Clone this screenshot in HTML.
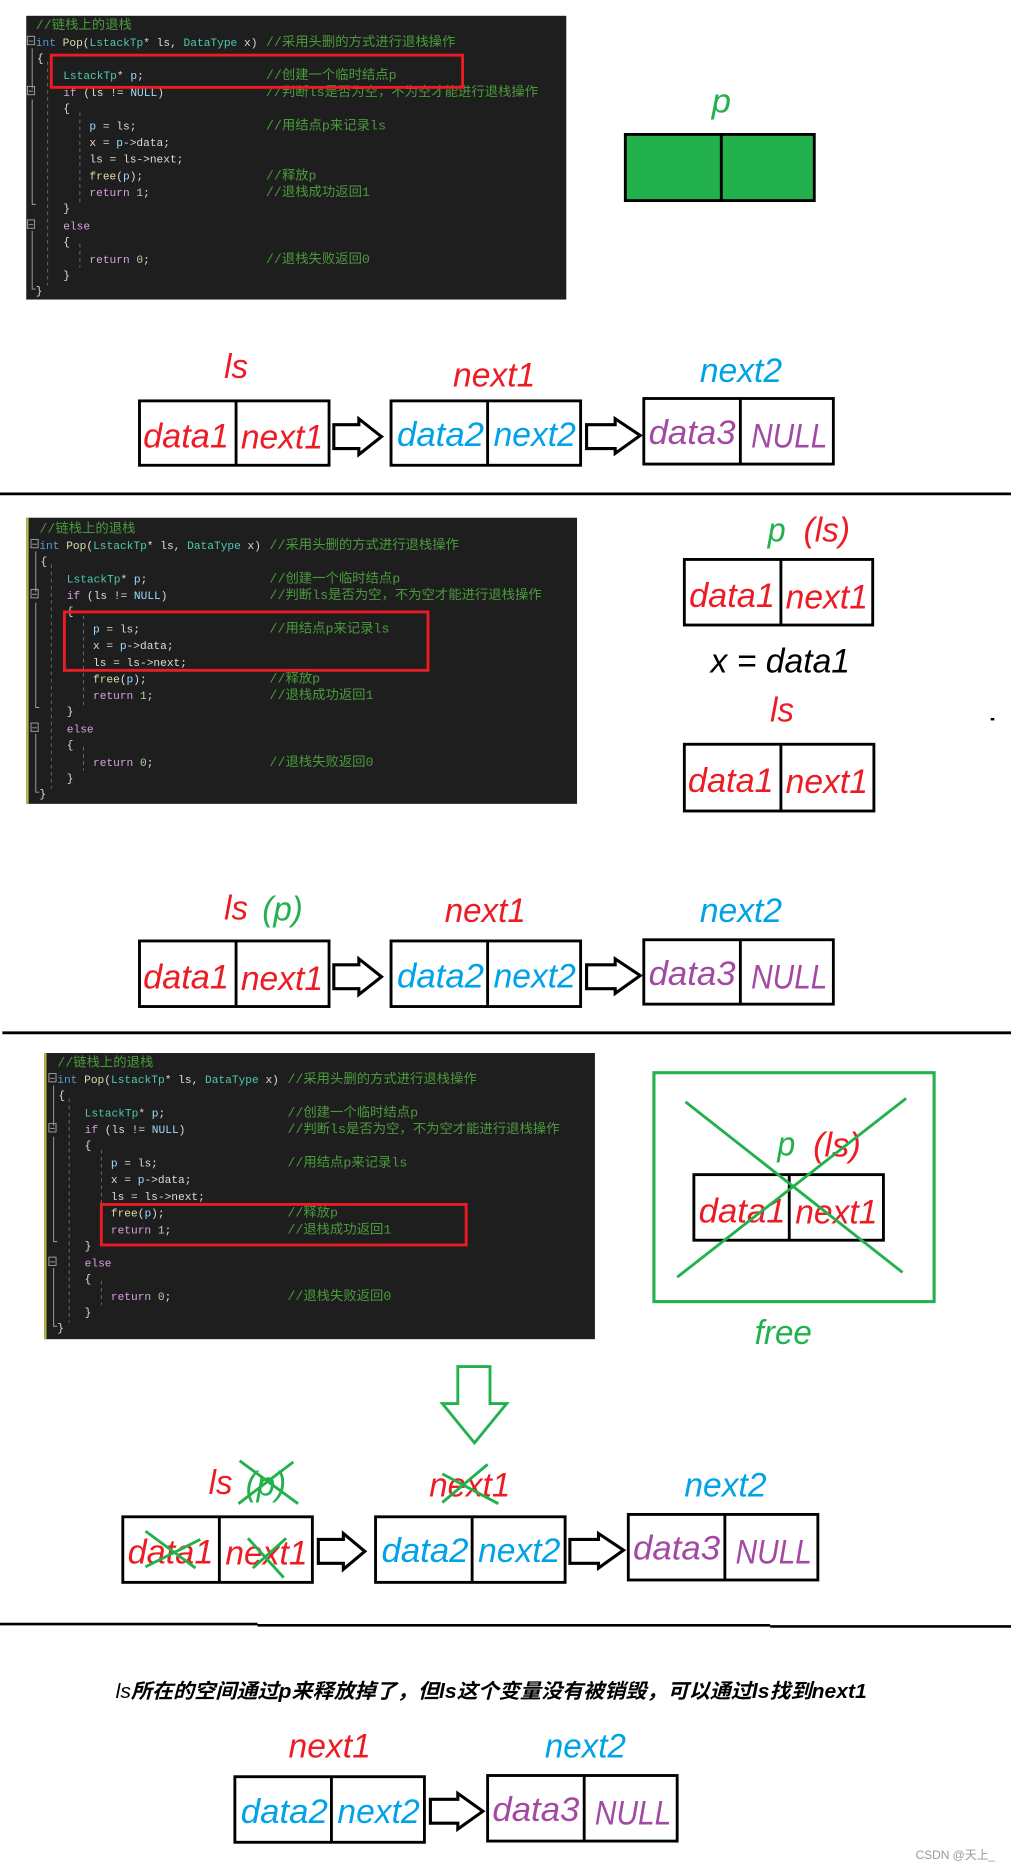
<!DOCTYPE html>
<html><head><meta charset="utf-8"><style>
html,body{margin:0;padding:0;background:#fff}
svg{display:block}
.l{font-family:"Liberation Sans","Noto Sans CJK SC",sans-serif;font-style:italic;font-size:29px}
.r{fill:#ed1c24}.b{fill:#00a2e8}.v{fill:#a349a4}.g{fill:#22b14c}
.c{font-family:"Liberation Mono",monospace;font-size:9.4px;fill:#dcdcdc;white-space:pre}
.cm{font-family:"Liberation Mono","Noto Sans CJK SC",monospace;font-size:11.2px;fill:#4a9a3c}
.k{fill:#569cd6}.t{fill:#4ec9b0}.p{fill:#9cdcfe}.f{fill:#dcdcaa}.u{fill:#d8a0df}.n{fill:#b5cea8}.m{fill:#bd63c5}
.box{fill:#fff;stroke:#000;stroke-width:2.4}
.arr{fill:#fff;stroke:#000;stroke-width:2.6}
.x{stroke:#22b14c;stroke-width:2.4;fill:none}
.rb{fill:none;stroke:#ed1c24;stroke-width:2.4}
.gut{stroke:#a0a0a0;stroke-width:.8;fill:none}
.dash{stroke:#777;stroke-width:.7;stroke-dasharray:3 3;fill:none}
</style></head><body>
<svg xmlns="http://www.w3.org/2000/svg" width="1011" height="1870" viewBox="0 0 848 1568">
<rect width="848" height="1568" fill="#fff"/>

<!-- code block 1 -->
<rect x="22" y="13" width="453" height="238" fill="#1e1e1e"/>
<g transform="translate(0,-0.8)">
<path class="gut" d="M27 41V75M27 84V172H30M27 194V243H30M24 35h4M24 77h4M24 189h4"/><rect x="23" y="31" width="6" height="7" class="gut"/><rect x="23" y="73" width="6" height="7" class="gut"/><rect x="23" y="185" width="6" height="7" class="gut"/>
<path class="dash" d="M40 52V240M67 95V170M67 205V225"/>
<text class="cm" x="30" y="25">//链栈上的退栈</text>
<text class="c" x="30" y="39"><tspan class="k">int</tspan> <tspan class="f">Pop</tspan>(<tspan class="t">LstackTp</tspan>* <tspan class="c">ls</tspan>, <tspan class="t">DataType</tspan> x)</text>
<text class="cm" x="223" y="39">//采用头删的方式进行退栈操作</text>
<text class="c" x="31" y="52">{</text>
<text class="c" x="53" y="67"><tspan class="t">LstackTp</tspan>* <tspan class="p">p</tspan>;</text>
<text class="cm" x="223" y="67">//创建一个临时结点p</text>
<text class="c" x="53" y="81"><tspan class="u">if</tspan> (ls != <tspan class="p">NULL</tspan>)</text>
<text class="cm" x="223" y="81">//判断ls是否为空，不为空才能进行退栈操作</text>
<text class="c" x="53" y="94">{</text>
<text class="c" x="75" y="109"><tspan class="p">p</tspan> = ls;</text>
<text class="cm" x="223" y="109">//用结点p来记录ls</text>
<text class="c" x="75" y="123">x = <tspan class="p">p</tspan>-&gt;data;</text>
<text class="c" x="75" y="137">ls = ls-&gt;next;</text>
<text class="c" x="75" y="151"><tspan class="f">free</tspan>(<tspan class="p">p</tspan>);</text>
<text class="cm" x="223" y="151">//释放p</text>
<text class="c" x="75" y="165"><tspan class="u">return</tspan> <tspan class="n">1</tspan>;</text>
<text class="cm" x="223" y="165">//退栈成功返回1</text>
<text class="c" x="53" y="178">}</text>
<text class="c" x="53" y="193"><tspan class="u">else</tspan></text>
<text class="c" x="53" y="206">{</text>
<text class="c" x="75" y="221"><tspan class="u">return</tspan> <tspan class="n">0</tspan>;</text>
<text class="cm" x="223" y="221">//退栈失败返回0</text>
<text class="c" x="53" y="234">}</text>
<text class="c" x="30" y="247">}</text>
</g>
<rect class="rb" x="43" y="46" width="345" height="27"/>

<!-- code block 2 -->
<rect x="22" y="434" width="462" height="240" fill="#1e1e1e"/>
<rect x="22" y="434" width="2" height="240" fill="#b5b84a"/>
<g transform="translate(3,421.2)">
<path class="gut" d="M27 41V75M27 84V172H30M27 194V243H30M24 35h4M24 77h4M24 189h4"/><rect x="23" y="31" width="6" height="7" class="gut"/><rect x="23" y="73" width="6" height="7" class="gut"/><rect x="23" y="185" width="6" height="7" class="gut"/>
<path class="dash" d="M40 52V240M67 95V170M67 205V225"/>
<text class="cm" x="30" y="25">//链栈上的退栈</text>
<text class="c" x="30" y="39"><tspan class="k">int</tspan> <tspan class="f">Pop</tspan>(<tspan class="t">LstackTp</tspan>* <tspan class="c">ls</tspan>, <tspan class="t">DataType</tspan> x)</text>
<text class="cm" x="223" y="39">//采用头删的方式进行退栈操作</text>
<text class="c" x="31" y="52">{</text>
<text class="c" x="53" y="67"><tspan class="t">LstackTp</tspan>* <tspan class="p">p</tspan>;</text>
<text class="cm" x="223" y="67">//创建一个临时结点p</text>
<text class="c" x="53" y="81"><tspan class="u">if</tspan> (ls != <tspan class="p">NULL</tspan>)</text>
<text class="cm" x="223" y="81">//判断ls是否为空，不为空才能进行退栈操作</text>
<text class="c" x="53" y="94">{</text>
<text class="c" x="75" y="109"><tspan class="p">p</tspan> = ls;</text>
<text class="cm" x="223" y="109">//用结点p来记录ls</text>
<text class="c" x="75" y="123">x = <tspan class="p">p</tspan>-&gt;data;</text>
<text class="c" x="75" y="137">ls = ls-&gt;next;</text>
<text class="c" x="75" y="151"><tspan class="f">free</tspan>(<tspan class="p">p</tspan>);</text>
<text class="cm" x="223" y="151">//释放p</text>
<text class="c" x="75" y="165"><tspan class="u">return</tspan> <tspan class="n">1</tspan>;</text>
<text class="cm" x="223" y="165">//退栈成功返回1</text>
<text class="c" x="53" y="178">}</text>
<text class="c" x="53" y="193"><tspan class="u">else</tspan></text>
<text class="c" x="53" y="206">{</text>
<text class="c" x="75" y="221"><tspan class="u">return</tspan> <tspan class="n">0</tspan>;</text>
<text class="cm" x="223" y="221">//退栈失败返回0</text>
<text class="c" x="53" y="234">}</text>
<text class="c" x="30" y="247">}</text>
</g>
<rect class="rb" x="54" y="513" width="305" height="49"/>

<!-- code block 3 -->
<rect x="37" y="883" width="462" height="240" fill="#1e1e1e"/>
<rect x="37" y="883" width="2" height="240" fill="#b5b84a"/>
<g transform="translate(18,869.2)">
<path class="gut" d="M27 41V75M27 84V172H30M27 194V243H30M24 35h4M24 77h4M24 189h4"/><rect x="23" y="31" width="6" height="7" class="gut"/><rect x="23" y="73" width="6" height="7" class="gut"/><rect x="23" y="185" width="6" height="7" class="gut"/>
<path class="dash" d="M40 52V240M67 95V170M67 205V225"/>
<text class="cm" x="30" y="25">//链栈上的退栈</text>
<text class="c" x="30" y="39"><tspan class="k">int</tspan> <tspan class="f">Pop</tspan>(<tspan class="t">LstackTp</tspan>* <tspan class="c">ls</tspan>, <tspan class="t">DataType</tspan> x)</text>
<text class="cm" x="223" y="39">//采用头删的方式进行退栈操作</text>
<text class="c" x="31" y="52">{</text>
<text class="c" x="53" y="67"><tspan class="t">LstackTp</tspan>* <tspan class="p">p</tspan>;</text>
<text class="cm" x="223" y="67">//创建一个临时结点p</text>
<text class="c" x="53" y="81"><tspan class="u">if</tspan> (ls != <tspan class="p">NULL</tspan>)</text>
<text class="cm" x="223" y="81">//判断ls是否为空，不为空才能进行退栈操作</text>
<text class="c" x="53" y="94">{</text>
<text class="c" x="75" y="109"><tspan class="p">p</tspan> = ls;</text>
<text class="cm" x="223" y="109">//用结点p来记录ls</text>
<text class="c" x="75" y="123">x = <tspan class="p">p</tspan>-&gt;data;</text>
<text class="c" x="75" y="137">ls = ls-&gt;next;</text>
<text class="c" x="75" y="151"><tspan class="f">free</tspan>(<tspan class="p">p</tspan>);</text>
<text class="cm" x="223" y="151">//释放p</text>
<text class="c" x="75" y="165"><tspan class="u">return</tspan> <tspan class="n">1</tspan>;</text>
<text class="cm" x="223" y="165">//退栈成功返回1</text>
<text class="c" x="53" y="178">}</text>
<text class="c" x="53" y="193"><tspan class="u">else</tspan></text>
<text class="c" x="53" y="206">{</text>
<text class="c" x="75" y="221"><tspan class="u">return</tspan> <tspan class="n">0</tspan>;</text>
<text class="cm" x="223" y="221">//退栈失败返回0</text>
<text class="c" x="53" y="234">}</text>
<text class="c" x="30" y="247">}</text>
</g>
<rect class="rb" x="85" y="1010" width="306" height="34"/>

<!-- p green node -->
<rect x="524.5" y="112.5" width="158.5" height="55.5" fill="#22b14c" stroke="#000" stroke-width="2.4"/>
<path d="M605 113V168" stroke="#000" stroke-width="2.4"/>
<text class="l g" x="597" y="94" font-size="28">p</text>

<!-- row 1 -->
<text class="l r" x="188" y="317" textLength="20" lengthAdjust="spacingAndGlyphs">ls</text>
<text class="l r" x="380" y="324" textLength="69" lengthAdjust="spacingAndGlyphs">next1</text>
<text class="l b" x="587" y="320" textLength="69" lengthAdjust="spacingAndGlyphs">next2</text>
<rect class="box" x="117" y="336" width="159" height="54"/><path class="box" d="M198 336V390"/>
<rect class="box" x="328" y="336" width="159" height="54"/><path class="box" d="M409 336V390"/>
<rect class="box" x="540" y="334" width="159" height="55"/><path class="box" d="M621 334V389"/>
<path class="arr" d="M280 356H301V351L320 366L301 381V376H280Z"/>
<path class="arr" d="M492 356H516V351L537 365L516 380V376H492Z"/>
<text class="l r" x="120" y="375" textLength="72" lengthAdjust="spacingAndGlyphs">data1</text>
<text class="l r" x="202" y="376" textLength="69" lengthAdjust="spacingAndGlyphs">next1</text>
<text class="l b" x="333" y="374" textLength="73" lengthAdjust="spacingAndGlyphs">data2</text>
<text class="l b" x="414" y="374" textLength="69" lengthAdjust="spacingAndGlyphs">next2</text>
<text class="l v" x="544" y="372" textLength="73" lengthAdjust="spacingAndGlyphs">data3</text>
<text class="l v" x="630" y="375" textLength="64" lengthAdjust="spacingAndGlyphs">NULL</text>

<path d="M0 414H848" stroke="#000" stroke-width="2.4"/>

<!-- right col 2 -->
<text class="l g" x="644" y="454" textLength="15" lengthAdjust="spacingAndGlyphs">p</text>
<text class="l r" x="674" y="454" textLength="39" lengthAdjust="spacingAndGlyphs">(ls)</text>
<rect class="box" x="574" y="469" width="158" height="55"/><path class="box" d="M655 469V524"/>
<text class="l r" x="578" y="509" textLength="72" lengthAdjust="spacingAndGlyphs">data1</text>
<text class="l r" x="659" y="510" textLength="69" lengthAdjust="spacingAndGlyphs">next1</text>
<text class="l" x="596" y="564" textLength="117" lengthAdjust="spacingAndGlyphs" fill="#000">x = data1</text>
<text class="l r" x="646" y="605" textLength="20" lengthAdjust="spacingAndGlyphs">ls</text>
<rect class="box" x="574" y="624" width="159" height="56"/><path class="box" d="M655 624V680"/>
<text class="l r" x="577" y="664" textLength="72" lengthAdjust="spacingAndGlyphs">data1</text>
<text class="l r" x="659" y="665" textLength="69" lengthAdjust="spacingAndGlyphs">next1</text>
<path d="M831 603h3" stroke="#000" stroke-width="2"/>

<!-- row 2 -->
<text class="l r" x="188" y="771" textLength="20" lengthAdjust="spacingAndGlyphs">ls</text>
<text class="l g" x="220" y="772" textLength="34" lengthAdjust="spacingAndGlyphs">(p)</text>
<text class="l r" x="373" y="773" textLength="68" lengthAdjust="spacingAndGlyphs">next1</text>
<text class="l b" x="587" y="773" textLength="69" lengthAdjust="spacingAndGlyphs">next2</text>
<rect class="box" x="117" y="789" width="159" height="55"/><path class="box" d="M198 789V844"/>
<rect class="box" x="328" y="789" width="159" height="55"/><path class="box" d="M409 789V844"/>
<rect class="box" x="540" y="788" width="159" height="54"/><path class="box" d="M621 788V842"/>
<path class="arr" d="M280 809H301V804L320 819L301 834V829H280Z"/>
<path class="arr" d="M492 809H516V804L537 818L516 833V829H492Z"/>
<text class="l r" x="120" y="829" textLength="72" lengthAdjust="spacingAndGlyphs">data1</text>
<text class="l r" x="202" y="830" textLength="69" lengthAdjust="spacingAndGlyphs">next1</text>
<text class="l b" x="333" y="828" textLength="73" lengthAdjust="spacingAndGlyphs">data2</text>
<text class="l b" x="414" y="828" textLength="69" lengthAdjust="spacingAndGlyphs">next2</text>
<text class="l v" x="544" y="826" textLength="73" lengthAdjust="spacingAndGlyphs">data3</text>
<text class="l v" x="630" y="829" textLength="64" lengthAdjust="spacingAndGlyphs">NULL</text>

<path d="M2 866H848" stroke="#000" stroke-width="2.4"/>

<!-- free box -->
<rect x="548.5" y="899.5" width="235" height="192" fill="#fff" stroke="#22b14c" stroke-width="2.6"/>
<rect class="box" x="582" y="985" width="159" height="55"/><path class="box" d="M662 985V1040"/>
<text class="l g" x="652" y="969" textLength="15" lengthAdjust="spacingAndGlyphs">p</text>
<text class="l r" x="682" y="970" textLength="40" lengthAdjust="spacingAndGlyphs">(ls)</text>
<text class="l r" x="586" y="1025" textLength="73" lengthAdjust="spacingAndGlyphs">data1</text>
<text class="l r" x="667" y="1026" textLength="69" lengthAdjust="spacingAndGlyphs">next1</text>
<path class="x" d="M575 924L757 1067M760 921L568 1071" stroke-width="2"/>
<text class="l g" x="633" y="1127" textLength="48" lengthAdjust="spacingAndGlyphs">free</text>

<!-- green down arrow -->
<path d="M384 1146H411V1177H425L398 1210L371 1177H384Z" fill="#fff" stroke="#22b14c" stroke-width="2.4"/>

<!-- row 3 -->
<text class="l r" x="175" y="1253" textLength="20" lengthAdjust="spacingAndGlyphs">ls</text>
<text class="l g" x="206" y="1254" textLength="34" lengthAdjust="spacingAndGlyphs">(p)</text>
<text class="l r" x="360" y="1255" textLength="68" lengthAdjust="spacingAndGlyphs">next1</text>
<text class="l b" x="574" y="1255" textLength="69" lengthAdjust="spacingAndGlyphs">next2</text>
<rect class="box" x="103" y="1272" width="159" height="55"/><path class="box" d="M184 1272V1327"/>
<rect class="box" x="315" y="1272" width="159" height="55"/><path class="box" d="M396 1272V1327"/>
<rect class="box" x="527" y="1270" width="159" height="55"/><path class="box" d="M608 1270V1325"/>
<path class="arr" d="M267 1291H288V1286L306 1301L288 1316V1311H267Z"/>
<path class="arr" d="M478 1291H502V1286L523 1300L502 1315V1311H478Z"/>
<text class="l r" x="107" y="1311" textLength="72" lengthAdjust="spacingAndGlyphs">data1</text>
<text class="l r" x="189" y="1312" textLength="69" lengthAdjust="spacingAndGlyphs">next1</text>
<text class="l b" x="320" y="1310" textLength="73" lengthAdjust="spacingAndGlyphs">data2</text>
<text class="l b" x="401" y="1310" textLength="69" lengthAdjust="spacingAndGlyphs">next2</text>
<text class="l v" x="531" y="1308" textLength="73" lengthAdjust="spacingAndGlyphs">data3</text>
<text class="l v" x="617" y="1311" textLength="64" lengthAdjust="spacingAndGlyphs">NULL</text>
<path class="x" d="M201 1225L250 1261M246 1226L200 1261M371 1236L418 1261M409 1228L371 1260M122 1284L164 1315M168 1291L122 1314M208 1290L238 1323M240 1290L212 1315"/>

<path d="M0 1362H216" stroke="#000" stroke-width="2.2"/>
<path d="M216 1363H646" stroke="#000" stroke-width="2.2"/>
<path d="M646 1364H848" stroke="#000" stroke-width="2.2"/>

<!-- note -->
<text x="97" y="1424" font-family="'Liberation Sans','Noto Sans CJK SC',sans-serif" font-style="italic" font-weight="bold" font-size="17" fill="#000" textLength="630" lengthAdjust="spacingAndGlyphs"><tspan font-weight="normal">ls</tspan>所在的空间通过p来释放掉了，但ls这个变量没有被销毁，可以通过ls找到next1</text>

<!-- row 4 -->
<text class="l r" x="242" y="1474" textLength="69" lengthAdjust="spacingAndGlyphs">next1</text>
<text class="l b" x="457" y="1474" textLength="68" lengthAdjust="spacingAndGlyphs">next2</text>
<rect class="box" x="197" y="1490" width="159" height="55"/><path class="box" d="M278 1490V1545"/>
<rect class="box" x="409" y="1489" width="159" height="55"/><path class="box" d="M490 1489V1544"/>
<path class="arr" d="M361 1509H384V1504L405 1519L384 1534V1529H361Z"/>
<text class="l b" x="202" y="1529" textLength="73" lengthAdjust="spacingAndGlyphs">data2</text>
<text class="l b" x="283" y="1529" textLength="69" lengthAdjust="spacingAndGlyphs">next2</text>
<text class="l v" x="413" y="1527" textLength="73" lengthAdjust="spacingAndGlyphs">data3</text>
<text class="l v" x="499" y="1530" textLength="64" lengthAdjust="spacingAndGlyphs">NULL</text>

<text x="768" y="1559" font-family="'Liberation Sans','Noto Sans CJK SC',sans-serif" font-size="10" fill="#9a9a9a">CSDN @天上_</text>
</svg>
</body></html>
